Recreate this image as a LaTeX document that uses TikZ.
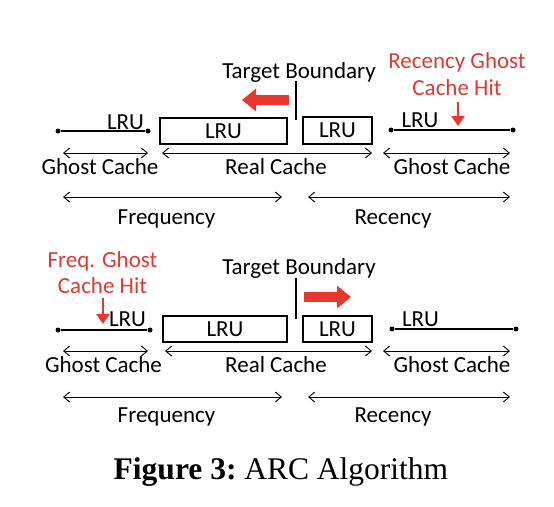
\documentclass[tikz,border=0pt]{standalone}
\usepackage{fontspec}
\setmainfont{Carlito}
\newfontfamily\capfont{Liberation Serif}
\usetikzlibrary{arrows.meta}
\definecolor{hitred}{HTML}{E8382E}
\definecolor{txtred}{HTML}{DC3A32}

\begin{document}
\begin{tikzpicture}[x=1pt, y=-1pt,
  lbl/.style={
    anchor=base,
    inner sep=0pt,
    font=\fontsize{23}{27}\selectfont
  },
  redlbl/.style={lbl, text=txtred},
  lrubox/.style={
    rectangle,
    draw,
    line width=2pt,
    inner sep=0pt,
    font=\fontsize{23}{27}\selectfont
  },
  dot/.style={circle, fill, inner sep=0pt, minimum size=5pt},
  ghost/.style={line width=2pt},
  bound/.style={line width=2pt},
  span/.style={
    line width=0.9pt,
    {Straight Barb[length=6pt,width=10pt]}-{Straight Barb[length=6pt,width=10pt]}
  },
  hit/.style={draw=hitred, line width=2.5pt, -{Triangle[length=10pt,width=13pt]}},
  shiftarrow/.style={draw=hitred, line width=10pt, -{Triangle[length=14pt,width=22pt]}}
]
  \useasboundingbox (0,0) rectangle (554,506);

  % Top panel - recency ghost hit, boundary moves left
  \node[lbl] (tb1) at (299,78) {Target Boundary};
  \coordinate (tb1top) at (296,81);
  \coordinate (tb1bot) at (296,120);
  \draw[bound] (tb1top) -- (tb1bot);
  \coordinate (sh1a) at (289,100);
  \coordinate (sh1b) at (242,100);
  \draw[shiftarrow] (sh1a) -- (sh1b);

  \node[dot] (fg1a) at (58,131) {};
  \node[dot] (fg1b) at (148,131) {};
  \draw[ghost] (fg1a) -- (fg1b);
  \node[lbl] (fl1) at (125.5,129) {LRU};
  \node[lrubox, minimum width=127pt, minimum height=26pt] (t1) at (223.5,131) {LRU};
  \node[lrubox, minimum width=69pt, minimum height=27pt] (b1) at (337.5,130.5) {LRU};
  \node[dot] (rg1a) at (391,130) {};
  \node[dot] (rg1b) at (513,130) {};
  \draw[ghost] (rg1a) -- (rg1b);
  \node[lbl] (rl1) at (420,127) {LRU};

  \node[redlbl] (rh1a) at (457,68) {Recency Ghost};
  \node[redlbl] (rh1b) at (457,95) {Cache Hit};
  \coordinate (rh1s) at (458,102);
  \coordinate (rh1e) at (458,126);
  \draw[hit] (rh1s) -- (rh1e);

  \coordinate (gl1a) at (63,153);
  \coordinate (gl1b) at (148,153);
  \coordinate (rc1a) at (162,153);
  \coordinate (rc1b) at (372,153);
  \coordinate (gr1a) at (383,153);
  \coordinate (gr1b) at (510,153);
  \draw[span] (gl1a) -- (gl1b);
  \draw[span] (rc1a) -- (rc1b);
  \draw[span] (gr1a) -- (gr1b);
  \node[lbl] (gcl1) at (100,174) {Ghost Cache};
  \node[lbl] (rcl1) at (276,174) {Real Cache};
  \node[lbl] (gcr1) at (452,174) {Ghost Cache};

  \coordinate (fq1a) at (63,197);
  \coordinate (fq1b) at (282,197);
  \coordinate (rq1a) at (308,197);
  \coordinate (rq1b) at (510,197);
  \draw[span] (fq1a) -- (fq1b);
  \draw[span] (rq1a) -- (rq1b);
  \node[lbl] (fql1) at (166.5,224) {Frequency};
  \node[lbl] (rql1) at (393,224) {Recency};

  % Bottom panel - frequency ghost hit, boundary moves right
  \node[redlbl] (fh2a) at (102.5,267) {Freq. Ghost};
  \node[redlbl] (fh2b) at (102.5,293) {Cache Hit};
  \coordinate (fh2s) at (103,298);
  \coordinate (fh2e) at (103,324);
  \draw[hit] (fh2s) -- (fh2e);

  \node[lbl] (tb2) at (299,274) {Target Boundary};
  \coordinate (tb2top) at (296,278);
  \coordinate (tb2bot) at (296,319);
  \draw[bound] (tb2top) -- (tb2bot);
  \coordinate (sh2a) at (304,297);
  \coordinate (sh2b) at (351,297);
  \draw[shiftarrow] (sh2a) -- (sh2b);

  \node[dot] (fg2a) at (58,330) {};
  \node[dot] (fg2b) at (150,330) {};
  \draw[ghost] (fg2a) -- (fg2b);
  \node[lbl] (fl2) at (127.5,326) {LRU};
  \node[lrubox, minimum width=124pt, minimum height=26pt] (t2) at (225,329) {LRU};
  \node[lrubox, minimum width=69pt, minimum height=26pt] (b2) at (337.5,329) {LRU};
  \node[dot] (rg2a) at (392,329) {};
  \node[dot] (rg2b) at (516,329) {};
  \draw[ghost] (rg2a) -- (rg2b);
  \node[lbl] (rl2) at (420.5,326) {LRU};

  \coordinate (gl2a) at (63,351);
  \coordinate (gl2b) at (148,351);
  \coordinate (rc2a) at (165,351);
  \coordinate (rc2b) at (372,351);
  \coordinate (gr2a) at (383,351);
  \coordinate (gr2b) at (510,351);
  \draw[span] (gl2a) -- (gl2b);
  \draw[span] (rc2a) -- (rc2b);
  \draw[span] (gr2a) -- (gr2b);
  \node[lbl] (gcl2) at (103.5,372) {Ghost Cache};
  \node[lbl] (rcl2) at (276,372) {Real Cache};
  \node[lbl] (gcr2) at (452,372) {Ghost Cache};

  \coordinate (fq2a) at (63,397);
  \coordinate (fq2b) at (282,397);
  \coordinate (rq2a) at (308,397);
  \coordinate (rq2b) at (510,397);
  \draw[span] (fq2a) -- (fq2b);
  \draw[span] (rq2a) -- (rq2b);
  \node[lbl] (fql2) at (166.5,422) {Frequency};
  \node[lbl] (rql2) at (393,422) {Recency};

  % Caption
  \node[anchor=base, inner sep=0pt, font=\capfont\fontsize{31.5}{36}\selectfont] (cap) at (281,479) {\textbf{Figure 3:}\ ARC Algorithm};
\end{tikzpicture}
\end{document}
